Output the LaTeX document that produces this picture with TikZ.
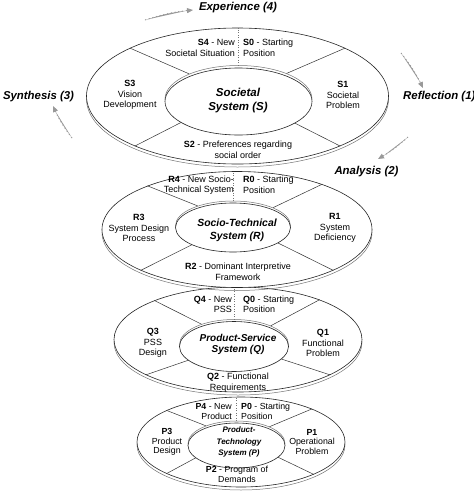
\documentclass[tikz,border=0pt]{standalone}
\usepackage{fontspec}
\setmainfont{Liberation Sans}
\usepackage{tikz}
\usetikzlibrary{
    arrows.meta,
    shapes.geometric,
    positioning,
    calc
}
\definecolor{rimgray}{gray}{0.45}
\definecolor{loopgray}{gray}{0.6}
\tikzstyle{disk} = [
    ellipse,
    draw=black!85,
    fill=white,
    line width=0.6pt,
    inner sep=0pt
]
\tikzstyle{rim} = [
    ellipse,
    draw=rimgray,
    line width=0.5pt,
    inner sep=0pt
]
\tikzstyle{divider} = [
    draw=black!80,
    line width=0.5pt
]
\tikzstyle{split} = [
    draw=black!55,
    dotted,
    line width=0.5pt
]
\tikzstyle{body} = [
    font=\fontsize{9}{10.5}\selectfont,
    align=center,
    inner sep=0pt
]
\tikzstyle{title} = [
    font=\bfseries\itshape,
    align=center,
    inner sep=0pt
]
\tikzstyle{phase} = [
    font=\fontsize{11.4}{13}\selectfont\bfseries\itshape,
    inner sep=0pt
]
\tikzstyle{loopflow} = [
    -{Triangle[length=6pt,width=5pt]},
    dash pattern=on 1.2pt off 2.6pt,
    line width=0.9pt,
    draw=loopgray,
    fill=loopgray
]

\begin{document}
\begin{tikzpicture}[x=1pt, y=-1pt]
    \useasboundingbox (0,0) rectangle (474,491);

    % Product-technology system
    \node[rim, minimum width=208pt, minimum height=90pt] (Prim) at (241,445) {};
    \node[disk, minimum width=208pt, minimum height=90pt] (Pout) at (241,442) {};
    \node[rim, minimum width=97pt, minimum height=45pt] (Phole) at (236.5,443.5) {};
    \draw[divider] (Pout.157) -- (Phole.150);
    \draw[divider] (Pout.25) -- (Phole.27);
    \draw[divider] (Pout.203) -- (Phole.199);
    \draw[divider] (Pout.336) -- (Phole.342);
    \node[disk, minimum width=97pt, minimum height=45pt] (Pin) at (236.5,445.5) {};
    \draw[split] (Phole.north) -- (Phole.north |- Pout.north);
    \node[title, font=\fontsize{8}{11.5}\selectfont\bfseries\itshape] (Ptitle) at (239,442) {Product-\\Technology\\System (P)};
    \node[body, font=\fontsize{8.8}{9.6}\selectfont, anchor=east, align=right] (P4) at (232,411.5) {\textbf{P4} - New\\Product};
    \node[body, font=\fontsize{8.8}{9.6}\selectfont, anchor=west, align=left] (P0) at (241,411.5) {\textbf{P0} - Starting\\Position};
    \node[body, font=\fontsize{8.8}{9.6}\selectfont] (P3) at (167,442) {\textbf{P3}\\Product\\Design};
    \node[body, font=\fontsize{8.8}{9.6}\selectfont] (P1) at (312,442) {\textbf{P1}\\Operational\\Problem};
    \node[body, font=\fontsize{8.8}{10.5}\selectfont] (P2) at (237,474.5) {\textbf{P2} - Program of\\Demands};

    % Product-service system
    \node[rim, minimum width=248pt, minimum height=105pt] (Qrim) at (238,342.5) {};
    \node[disk, minimum width=248pt, minimum height=105pt] (Qout) at (238,339.5) {};
    \node[rim, minimum width=109pt, minimum height=50pt] (Qhole) at (234,344.5) {};
    \draw[divider] (Qout.155) -- (Qhole.148);
    \draw[divider] (Qout.26) -- (Qhole.27);
    \draw[divider] (Qout.201) -- (Qhole.199);
    \draw[divider] (Qout.339) -- (Qhole.343);
    \node[disk, minimum width=109pt, minimum height=50pt] (Qin) at (234,346.5) {};
    \draw[split] (Qhole.north) -- (Qhole.north |- Qout.north);
    \node[title, font=\fontsize{10}{11.5}\selectfont\bfseries\itshape] (Qtitle) at (238,344.5) {Product-Service\\System (Q)};
    \node[body, anchor=east, align=right] (Q4) at (232,304.5) {\textbf{Q4} - New\\PSS};
    \node[body, anchor=west, align=left] (Q0) at (243,304.5) {\textbf{Q0} - Starting\\Position};
    \node[body] (Q3) at (153,343) {\textbf{Q3}\\PSS\\Design};
    \node[body] (Q1) at (323,343) {\textbf{Q1}\\Functional\\Problem};
    \node[body] (Q2) at (238,382.5) {\textbf{Q2} - Functional\\Requirements};

    % Socio-technical system
    \node[rim, minimum width=270pt, minimum height=116pt] (Rrim) at (237,232.5) {};
    \node[disk, minimum width=270pt, minimum height=116pt] (Rout) at (237,229.5) {};
    \node[rim, minimum width=115pt, minimum height=49pt] (Rhole) at (233,225.5) {};
    \draw[divider] (Rout.154) -- (Rhole.151);
    \draw[divider] (Rout.28) -- (Rhole.24);
    \draw[divider] (Rout.203) -- (Rhole.205);
    \draw[divider] (Rout.337) -- (Rhole.339);
    \node[disk, minimum width=115pt, minimum height=49pt] (Rin) at (233,227.5) {};
    \draw[split] (Rhole.north) -- (Rhole.north |- Rout.north);
    \node[title, font=\fontsize{10.4}{13}\selectfont\bfseries\itshape] (Rtitle) at (237,230.5) {Socio-Technical\\System (R)};
    \node[body, anchor=east, align=right] (R4) at (234,185) {\textbf{R4} - New Socio-\\Technical System};
    \node[body, anchor=west, align=left] (R0) at (243,185) {\textbf{R0} - Starting\\Position};
    \node[body] (R3) at (139,228) {\textbf{R3}\\System Design\\Process};
    \node[body] (R1) at (335,228) {\textbf{R1}\\System\\Deficiency};
    \node[body] (R2) at (238,272) {\textbf{R2} - Dominant Interpretive\\Framework};

    % Societal system
    \node[rim, minimum width=302pt, minimum height=136pt] (Srim) at (237.5,99) {};
    \node[disk, minimum width=302pt, minimum height=136pt] (Sout) at (237.5,96) {};
    \node[rim, minimum width=147pt, minimum height=67pt] (Shole) at (238.5,99) {};
    \draw[divider] (Sout.156) -- (Shole.153);
    \draw[divider] (Sout.24) -- (Shole.28);
    \draw[divider] (Sout.206) -- (Shole.202);
    \draw[divider] (Sout.334) -- (Shole.337);
    \node[disk, minimum width=147pt, minimum height=67pt] (Sin) at (238.5,101.5) {};
    \draw[split] (Shole.north) -- (Shole.north |- Sout.north);
    \node[title, font=\fontsize{11.5}{14.5}\selectfont\bfseries\itshape] (Stitle) at (238,100.5) {Societal\\System (S)};
    \node[body, anchor=east, align=right] (S4) at (235,48) {\textbf{S4} - New\\Societal Situation};
    \node[body, anchor=west, align=left] (S0) at (243,48) {\textbf{S0} - Starting\\Position};
    \node[body] (S3) at (130,95) {\textbf{S3}\\Vision\\Development};
    \node[body] (S1) at (343,95) {\textbf{S1}\\Societal\\Problem};
    \node[body] (S2) at (238,150) {\textbf{S2} - Preferences regarding\\social order};

    % Learning cycle
    \node[phase] (experience) at (238,7.5) {Experience (4)};
    \node[phase, anchor=west] (reflection) at (403,97) {Reflection (1)};
    \node[phase] (analysis) at (366.5,172) {Analysis (2)};
    \node[phase] (synthesis) at (38.5,97) {Synthesis (3)};
    \coordinate (expA) at (145,20);
    \coordinate (expB) at (193,10);
    \coordinate (refA) at (401,53);
    \coordinate (refB) at (423,88);
    \coordinate (anaA) at (408,137);
    \coordinate (anaB) at (378,159);
    \coordinate (synA) at (72,138);
    \coordinate (synB) at (53,106);
    \draw[loopflow] (expA) to[bend left=6] (expB);
    \draw[loopflow] (refA) to[bend left=6] (refB);
    \draw[loopflow] (anaA) to[bend left=6] (anaB);
    \draw[loopflow] (synA) to[bend left=6] (synB);
\end{tikzpicture}
\end{document}
